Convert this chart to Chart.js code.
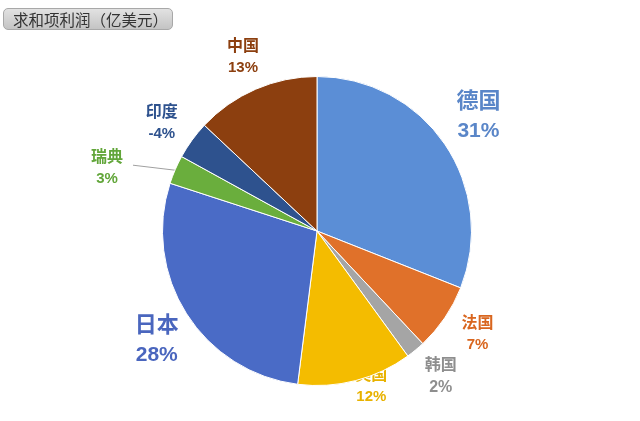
<!DOCTYPE html>
<html><head><meta charset="utf-8">
<script src="https://cdn.jsdelivr.net/npm/chart.js@4.4.0/dist/chart.umd.min.js"></script>
<style>
html,body{margin:0;padding:0;background:#fff;}
#wrap{position:relative;width:640px;height:421px;}
#title{position:absolute;left:3px;top:8px;width:170px;height:22px;box-sizing:border-box;border:1px solid #a8a8a8;border-radius:5px;
background:linear-gradient(#e2e2e2,#c4c4c4);font:15.5px "Noto Sans CJK SC",sans-serif;color:#333;line-height:20px;padding-left:9px;white-space:nowrap;}
</style></head>
<body><div id="wrap"><canvas id="c" width="640" height="421"></canvas><div id="title">求和项利润（亿美元）</div></div>
<script>
const categories = ["德国","法国","韩国","美国","日本","瑞典","印度","中国"];
const values = [31,7,2,12,28,3,4,13];
const pctLabels = ["31%","7%","2%","12%","28%","3%","-4%","13%"];
const sliceColors = ["#5B8ED6","#E0712A","#A5A5A5","#F4BC00","#4A6BC6","#6AAE3D","#2E528E","#8C3F0F"];
const labelColors = ["#5A86C8","#D9661F","#8E8E8E","#E8B200","#4A66BE","#62A63A","#2E528E","#8C3F0F"];
// label style: [extra radius, angle tweak (deg), name font px, pct font px]
const labelStyle = [[44,-1.4,22,21],[36,-1.6,16,15],[36,-0.9,16,16],[9,-5,16,15],[39,-1.7,22,21],[65,-6.5,16,15],[35,-1,16,15],[35,0.4,16,15]];

const labelPlugin = {
  id:'sliceLabels',
  beforeDatasetsDraw(chart){
    const ctx = chart.ctx;
    const meta = chart.getDatasetMeta(0);
    meta.data.forEach((arc,i)=>{
      const p = arc.getProps(['x','y','startAngle','endAngle','outerRadius'],true);
      const st = labelStyle[i];
      const mid = (p.startAngle+p.endAngle)/2 + st[1]*Math.PI/180;
      const r = p.outerRadius + st[0];
      const cx = p.x + Math.cos(mid)*r;
      const cy = p.y + Math.sin(mid)*r;
      ctx.save();
      if(i===5){
        const mid0=(p.startAngle+p.endAngle)/2;
        ctx.strokeStyle='#a0a0a0';ctx.lineWidth=1;
        ctx.beginPath();
        ctx.moveTo(cx+26, cy-2);
        ctx.lineTo(p.x+Math.cos(mid0)*(p.outerRadius-2), p.y+Math.sin(mid0)*(p.outerRadius-2));
        ctx.stroke();
      }
      ctx.fillStyle = labelColors[i];
      ctx.textAlign='center';ctx.textBaseline='middle';
      ctx.font = 'bold '+st[2]+'px "Noto Sans CJK SC", sans-serif';
      const gap = (st[2]+st[3])/2*0.75;
      ctx.fillText(categories[i], cx, cy-gap);
      ctx.font = 'bold '+st[3]+'px "Liberation Sans", Arial, sans-serif';
      ctx.fillText(pctLabels[i], cx, cy+gap);
      ctx.restore();
    });
  }
};

new Chart(document.getElementById('c'),{
  type:'pie',
  data:{labels:categories,datasets:[{data:values,backgroundColor:sliceColors,borderColor:'#ffffff',borderWidth:1,hoverOffset:0}]},
  options:{
    responsive:false,animation:false,
    layout:{padding:{top:76,bottom:35,left:0,right:6}},
    plugins:{legend:{display:false},tooltip:{enabled:false}}
  },
  plugins:[labelPlugin]
});
</script></body></html>
